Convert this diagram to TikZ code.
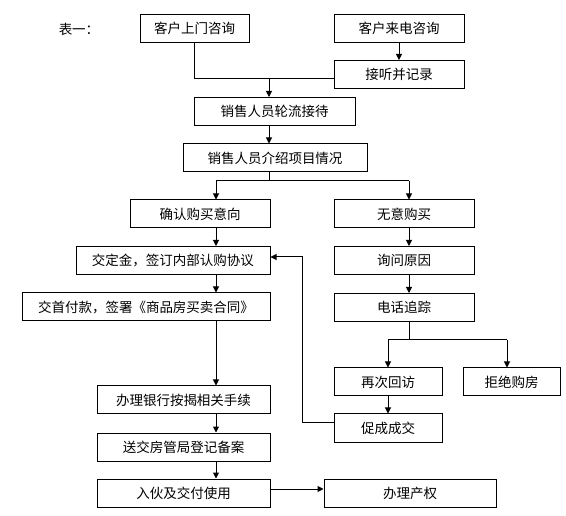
\documentclass[tikz,border=0pt]{standalone}
\usepackage{fontspec}
\setmainfont{Noto Sans CJK SC}
\usetikzlibrary{arrows.meta}
\begin{document}
\begin{tikzpicture}[x=1pt,y=-1pt,
  box/.style={draw, line width=1pt, minimum height=28pt, inner sep=0pt, font=\fontsize{13.5}{16}\selectfont},
  lbl/.style={inner sep=0pt, font=\fontsize{13.5}{16}\selectfont},
  conn/.style={line width=1pt},
  arr/.style={line width=1pt, -{Triangle[width=6pt,length=6pt]}}]
\useasboundingbox[fill=white] (0,0) rectangle (566,516);
% nodes
\node[lbl] (title) at (79,29) {表一：};
\node[box, minimum width=109pt] (kh) at (194.5,28.5) {客户上门咨询};
\node[box, minimum width=130pt] (kl) at (399,28.5) {客户来电咨询};
\node[box, minimum width=130pt] (jt) at (399,74.5) {接听并记录};
\node[box, minimum width=161pt] (lj) at (274.5,111.5) {销售人员轮流接待};
\node[box, minimum width=184pt] (js) at (275,158) {销售人员介绍项目情况};
\node[box, minimum width=140pt] (qr) at (200,214) {确认购买意向};
\node[box, minimum width=140pt] (wy) at (404,214) {无意购买};
\node[box, minimum width=194pt] (dj) at (173,260.5) {交定金，签订内部认购协议};
\node[box, minimum width=248pt] (sf) at (146,307) {交首付款，签署《商品房买卖合同》};
\node[box, minimum width=173pt] (yh) at (183.5,400) {办理银行按揭相关手续};
\node[box, minimum width=173pt] (sj) at (183.5,447) {送交房管局登记备案};
\node[box, minimum width=173pt] (rh) at (183.5,493) {入伙及交付使用};
\node[box, minimum width=172pt] (cq) at (410,493) {办理产权};
\node[box, minimum width=140pt] (xw) at (404,260.5) {询问原因};
\node[box, minimum width=140pt] (dh) at (404,307.5) {电话追踪};
\node[box, minimum width=108pt] (zc) at (388,382) {再次回访};
\node[box, minimum width=97pt] (jj) at (511.5,382) {拒绝购房};
\node[box, minimum width=108pt] (cc) at (388,428) {促成成交};
% helper coordinates
\coordinate (m1) at (194.5,79);
\coordinate (m2) at (269,79);
\coordinate (b1) at (269,181);
\coordinate (b1l) at (216,181);
\coordinate (b1r) at (409,181);
\coordinate (b2) at (409,340);
\coordinate (b2l) at (388,340);
\coordinate (b2r) at (507,340);
\coordinate (f1) at (302,422);
\coordinate (f2) at (302,257);
\coordinate (r1) at (280,489);
% connectors
\draw[conn] (kh.south) -- (m1) -- (jt.west |- m1);
\draw[arr] (kl.south) -- (jt.north);
\draw[arr] (m2) -- (lj.north -| m2);
\draw[arr] (lj.south -| m2) -- (js.north -| m2);
\draw[conn] (js.south -| b1) -- (b1);
\draw[conn] (b1l) -- (b1r);
\draw[arr] (b1l) -- (qr.north -| b1l);
\draw[arr] (b1r) -- (wy.north -| b1r);
\draw[arr] (qr.south -| b1l) -- (dj.north -| b1l);
\draw[arr] (dj.south -| b1l) -- (sf.north -| b1l);
\draw[arr] (sf.south -| b1l) -- (yh.north -| b1l);
\draw[arr] (yh.south -| b1l) -- (sj.north -| b1l);
\draw[arr] (sj.south -| b1l) -- (rh.north -| b1l);
\draw[arr] (rh.east |- r1) -- (cq.west |- r1);
\draw[arr] (wy.south -| b1r) -- (xw.north -| b1r);
\draw[arr] (xw.south -| b1r) -- (dh.north -| b1r);
\draw[conn] (dh.south -| b2) -- (b2);
\draw[conn] (b2l) -- (b2r);
\draw[arr] (b2l) -- (zc.north -| b2l);
\draw[arr] (b2r) -- (jj.north -| b2r);
\draw[arr] (zc.south -| b2l) -- (cc.north -| b2l);
\draw[arr] (cc.west |- f1) -- (f1) -- (f2) -- (dj.east |- f2);
\end{tikzpicture}
\end{document}
